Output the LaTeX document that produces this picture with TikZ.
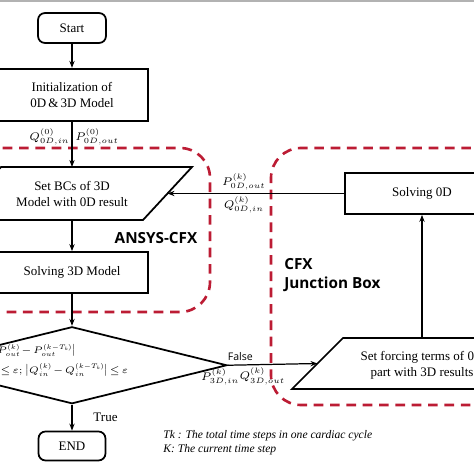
\RequirePackage{fix-cm}
\documentclass[tikz,border=0pt]{standalone}
\usepackage{amsmath,amssymb}
\usepackage{fontspec}
\setmainfont{Liberation Serif}
\newfontfamily\labelsans{Open Sans}
\usepackage{xcolor}
\usetikzlibrary{arrows.meta,positioning,shapes.geometric}
\definecolor{cfxred}{RGB}{188,28,52}
\newcommand\blockfont{\fontsize{7.4}{9}\selectfont}
\newcommand\mathlblfont{\fontsize{6.3}{7.5}\selectfont\scriptspace=0pt}
\newcommand\critfont{\fontsize{5.4}{7}\selectfont\scriptspace=0pt\medmuskip=2mu\thickmuskip=2.5mu}

\begin{document}
\begin{tikzpicture}[
    x=0.02cm, y=-0.02cm,
    block/.style={draw, line width=1pt, align=center, minimum width=3.04cm, minimum height=0.82cm, inner sep=1pt, font=\blockfont},
    term/.style={block, rounded corners=4pt, minimum width=1.36cm, minimum height=0.6cm},
    io/.style={draw, line width=1pt, line join=miter},
    iotext/.style={align=center, inner sep=1pt, font=\blockfont},
    cond/.style={draw, line width=1pt, diamond, inner sep=0pt, minimum width=6.2cm, minimum height=1.54cm},
    arr/.style={-{Stealth[length=4pt,width=3pt]}, line width=0.7pt},
    region/.style={draw=cfxred, dash pattern=on 5.5pt off 3.8pt, line width=1.5pt, rounded corners=0.6cm},
    lbl/.style={font=\mathlblfont, inner sep=1.5pt},
    tag/.style={font=\labelsans\bfseries\fontsize{8.7}{10.5}\selectfont, align=left, inner sep=0pt}
]
\useasboundingbox (0,0) rectangle (474,474);
\clip (0,0) rectangle (474,474);
\fill[black!30] (0,0) rectangle (474,2);

% coupling regions
\draw[region] (-30,148) -- (210,148) -- (210,312) -- (-30,312);
\draw[region] (520,148) -- (271,148) -- (271,405) -- (520,405);
\node[tag] (ansys) at (156,238) {ANSYS-CFX};
\node[tag, anchor=west] (jbox) at (284,275) {CFX\\Junction Box};

% main loop
\node[term] (start) at (72,28) {Start};
\node[block, below=0.48cm of start, minimum height=1.04cm] (init) {Initialization of\\0D\,\&\,3D Model};
\draw[io] (1,167) -- (192,167) -- (143,220) -- (-48,220) -- cycle;
\node[iotext] (bcs) at (72,194) {Set BCs of 3D\\Model with 0D result};
\coordinate (bcstop) at (72,167);
\coordinate (bcsbot) at (72,220);
\coordinate (bcsin) at (167.5,193.5);
\node[block] (solve3d) at (72,272.5) {Solving 3D Model};
\node[cond, below=0.64cm of solve3d] (dec) {};
\node[term, below=0.52cm of dec, minimum width=1.34cm, minimum height=0.58cm] (end) {END};
\node[font=\critfont, inner sep=0pt, anchor=base east] (crit1) at (76,353) {$\bigl|P^{(k)}_{out}-P^{(k-T_k)}_{out}\bigr|$};
\node[font=\critfont, inner sep=0pt, anchor=base west] (crit2) at (0,373) {$\le\varepsilon;\bigl|Q^{(k)}_{in}-Q^{(k-T_k)}_{in}\bigr|\le\varepsilon$};

% 0D side
\node[block, minimum width=3.08cm] (solve0d) at (422,193.5) {Solving 0D};
\draw[io] (343,338) -- (560,338) -- (509,389) -- (292,389) -- cycle;
\node[iotext] (forcing) at (422,365) {Set forcing terms of 0D\\part with 3D results};
\coordinate (fortop) at (422,338);
\coordinate (forin) at (317.5,363.5);

\node[anchor=west, inner sep=0pt, font=\itshape\fontsize{6.6}{8.2}\selectfont, align=left] (note) at (163,443) {Tk : The total time steps in one cardiac cycle\\K: The current time step};

\draw[arr] (start) -- (init);
\draw[arr] (init) -- node[lbl, left, pos=0.34] {$Q^{(0)}_{0D,in}$} node[lbl, right, pos=0.34] {$P^{(0)}_{0D,out}$} (bcstop);
\draw[arr] (bcsbot) -- (solve3d);
\draw[arr] (solve3d) -- (dec);
\draw[arr] (dec) -- node[font=\blockfont, right, pos=0.5, xshift=0.3cm] {True} (end);
\draw[arr] (dec.east) -- node[above, pos=0.14, inner sep=2pt, font=\labelsans\fontsize{6}{7}\selectfont] {False}
    node[lbl, below, pos=-0.09] {$P^{(k)}_{3D,in}$} node[lbl, below, pos=0.38] {$Q^{(k)}_{3D,out}$} (forin);
\draw[arr] (fortop) -- (solve0d);
\draw[arr] (solve0d) -- node[lbl, above, pos=0.57] {$P^{(k)}_{0D,out}$} node[lbl, below, pos=0.57] {$Q^{(k)}_{0D,in}$} (bcsin);
\end{tikzpicture}
\end{document}
